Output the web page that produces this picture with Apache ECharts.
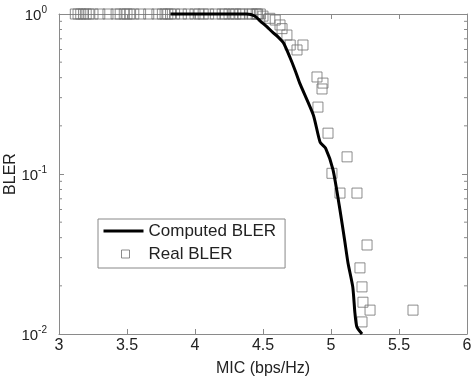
<!DOCTYPE html>
<html>
<head>
<meta charset="utf-8">
<script src="https://cdn.jsdelivr.net/npm/echarts@6/dist/echarts.min.js"></script>
<style>
  html, body { margin: 0; padding: 0; background: #fff; }
  #chart { width: 474px; height: 378px; }
</style>
</head>
<body>
<div id="chart"></div>
<script>
// computed BLER curve [MIC, BLER]
const computedBler = [
  [3.82, 1.0], [4.38, 1.0], [4.44, 0.972], [4.48, 0.904], [4.53, 0.83],
  [4.57, 0.77], [4.61, 0.72], [4.65, 0.66], [4.70, 0.531], [4.735, 0.447],
  [4.77, 0.37], [4.87, 0.234], [4.92, 0.158], [4.96, 0.145], [5.015, 0.106],
  [5.066, 0.0596], [5.10, 0.0387], [5.125, 0.0278], [5.16, 0.0197],
  [5.176, 0.0135], [5.19, 0.0111], [5.228, 0.01]
]

// measured points sitting at BLER = 1
const realTopMic = [
  3.12, 3.14, 3.16, 3.18, 3.20, 3.22, 3.25, 3.30, 3.36, 3.42, 3.45, 3.48,
  3.50, 3.52, 3.55, 3.60, 3.66, 3.72, 3.76, 3.78, 3.80, 3.82, 3.85, 3.90,
  3.95, 4.00, 4.03, 4.06, 4.10, 4.15, 4.20, 4.22, 4.25, 4.28, 4.30, 4.33,
  4.35, 4.40, 4.42, 4.45, 4.46, 4.48
]
// measured points below 1
const realLower = [
  [4.50, 0.97], [4.55, 0.94], [4.59, 0.917], [4.625, 0.854], [4.64, 0.81],
  [4.676, 0.739], [4.70, 0.64], [4.75, 0.596], [4.794, 0.64], [4.897, 0.404],
  [4.941, 0.37], [4.934, 0.34], [4.904, 0.262], [4.978, 0.18], [5.118, 0.128],
  [5.007, 0.101], [5.066, 0.076], [5.191, 0.076], [5.265, 0.036], [5.213, 0.0259],
  [5.228, 0.0197], [5.235, 0.0158], [5.287, 0.0141], [5.228, 0.0119], [5.603, 0.0141]
]

const xTicks = [3, 3.5, 4, 4.5, 5, 5.5, 6]
const minorTickValues = [
  0.02, 0.03, 0.04, 0.05, 0.06, 0.07, 0.08, 0.09,
  0.2, 0.3, 0.4, 0.5, 0.6, 0.7, 0.8, 0.9
]

const realBler = realTopMic.map(m => [m, 1]).concat(realLower)

const axisGray = '#8a8a8a'
const markerGray = '#707070'
const textColor = '#222'
const font = 'Liberation Sans'

const chart = echarts.init(document.getElementById('chart'))

chart.setOption({
  animation: false,
  backgroundColor: '#fff',
  textStyle: { fontFamily: font },
  grid: { left: 59, right: 7, top: 14, bottom: 44, containLabel: false, outerBoundsMode: 'none' },
  legend: {
    left: 98,
    top: 219,
    orient: 'vertical',
    itemWidth: 40,
    itemHeight: 10,
    itemGap: 5,
    padding: [3, 9, 5, 5],
    borderColor: '#888',
    borderWidth: 1,
    borderRadius: 0,
    backgroundColor: '#fff',
    textStyle: { fontFamily: font, fontSize: 17, color: textColor, lineHeight: 18 },
    data: [
      {
        name: 'Computed BLER',
        icon: 'path://M0,0 M0,3.5 L40,3.5 L40,6.5 L0,6.5 Z M40,10',
        itemStyle: { color: '#000', borderWidth: 0 }
      },
      {
        name: 'Real BLER',
        icon: 'path://M0,0 M18,1 L26,1 L26,9 L18,9 Z M40,10',
        itemStyle: { color: 'rgba(255,255,255,0)', borderColor: markerGray, borderWidth: 1 }
      }
    ]
  },
  xAxis: [
    {
      type: 'value',
      min: 3,
      max: 6,
      interval: 0.5,
      name: 'MIC (bps/Hz)',
      nameLocation: 'middle',
      nameGap: 27,
      nameMoveOverlap: false,
      nameTextStyle: { fontFamily: font, fontSize: 16, color: textColor },
      axisLine: { lineStyle: { color: axisGray, width: 1 } },
      axisTick: { inside: true, length: 5, lineStyle: { color: axisGray } },
      axisLabel: {
        fontFamily: font, fontSize: 16, color: textColor, margin: 4,
        formatter: v => (xTicks.includes(v) ? String(v) : '')
      },
      splitLine: { show: false }
    },
    {
      type: 'value',
      position: 'top',
      min: 3,
      max: 6,
      interval: 0.5,
      axisLine: { show: true, lineStyle: { color: axisGray, width: 1 } },
      axisTick: { inside: true, length: 5, lineStyle: { color: axisGray } },
      axisLabel: { show: false },
      splitLine: { show: false }
    }
  ],
  yAxis: [
    {
      type: 'log',
      logBase: 10,
      min: 0.01,
      max: 1,
      name: 'BLER',
      nameLocation: 'middle',
      nameGap: 40,
      nameMoveOverlap: false,
      nameTextStyle: { fontFamily: font, fontSize: 16, color: textColor },
      axisLine: { show: true, lineStyle: { color: axisGray, width: 1 } },
      axisTick: { inside: true, length: 5, lineStyle: { color: axisGray } },
      axisLabel: {
        margin: 12,
        formatter: v => '{b|10}{s|' + Math.round(Math.log10(v)) + '}',
        rich: {
          b: { fontFamily: font, fontSize: 15, color: textColor, lineHeight: 18, verticalAlign: 'bottom' },
          s: { fontFamily: font, fontSize: 10, color: textColor, lineHeight: 18, verticalAlign: 'top', padding: [0, 0, 8, 0] }
        }
      },
      splitLine: { show: false }
    },
    {
      type: 'log',
      logBase: 10,
      min: 0.01,
      max: 1,
      position: 'right',
      axisLine: { show: true, lineStyle: { color: axisGray, width: 1 } },
      axisTick: { inside: true, length: 5, lineStyle: { color: axisGray } },
      axisLabel: { show: false },
      splitLine: { show: false }
    }
  ],
  series: [
    {
      name: 'minor ticks',
      type: 'custom',
      silent: true,
      legendHoverLink: false,
      data: minorTickValues.map(v => [3, v]),
      renderItem: (params, api) => {
        const v = api.value(1)
        const l = api.coord([3, v])
        const r = api.coord([6, v])
        const style = { stroke: axisGray, lineWidth: 1 }
        return {
          type: 'group',
          children: [
            { type: 'line', shape: { x1: l[0], y1: l[1], x2: l[0] + 3, y2: l[1] }, style },
            { type: 'line', shape: { x1: r[0], y1: r[1], x2: r[0] - 3, y2: r[1] }, style }
          ]
        }
      },
      z: 1
    },
    {
      name: 'Real BLER',
      type: 'scatter',
      data: realBler,
      symbol: 'rect',
      symbolSize: 10,
      symbolKeepAspect: true,
      clip: false,
      itemStyle: { color: 'rgba(255,255,255,0)', borderColor: markerGray, borderWidth: 1 },
      z: 2
    },
    {
      name: 'Computed BLER',
      type: 'line',
      data: computedBler,
      symbol: 'none',
      smooth: 0.2,
      clip: false,
      lineStyle: { color: '#000', width: 3 },
      itemStyle: { color: '#000' },
      z: 3
    }
  ]
})

window.addEventListener('resize', () => chart.resize())
</script>
</body>
</html>
